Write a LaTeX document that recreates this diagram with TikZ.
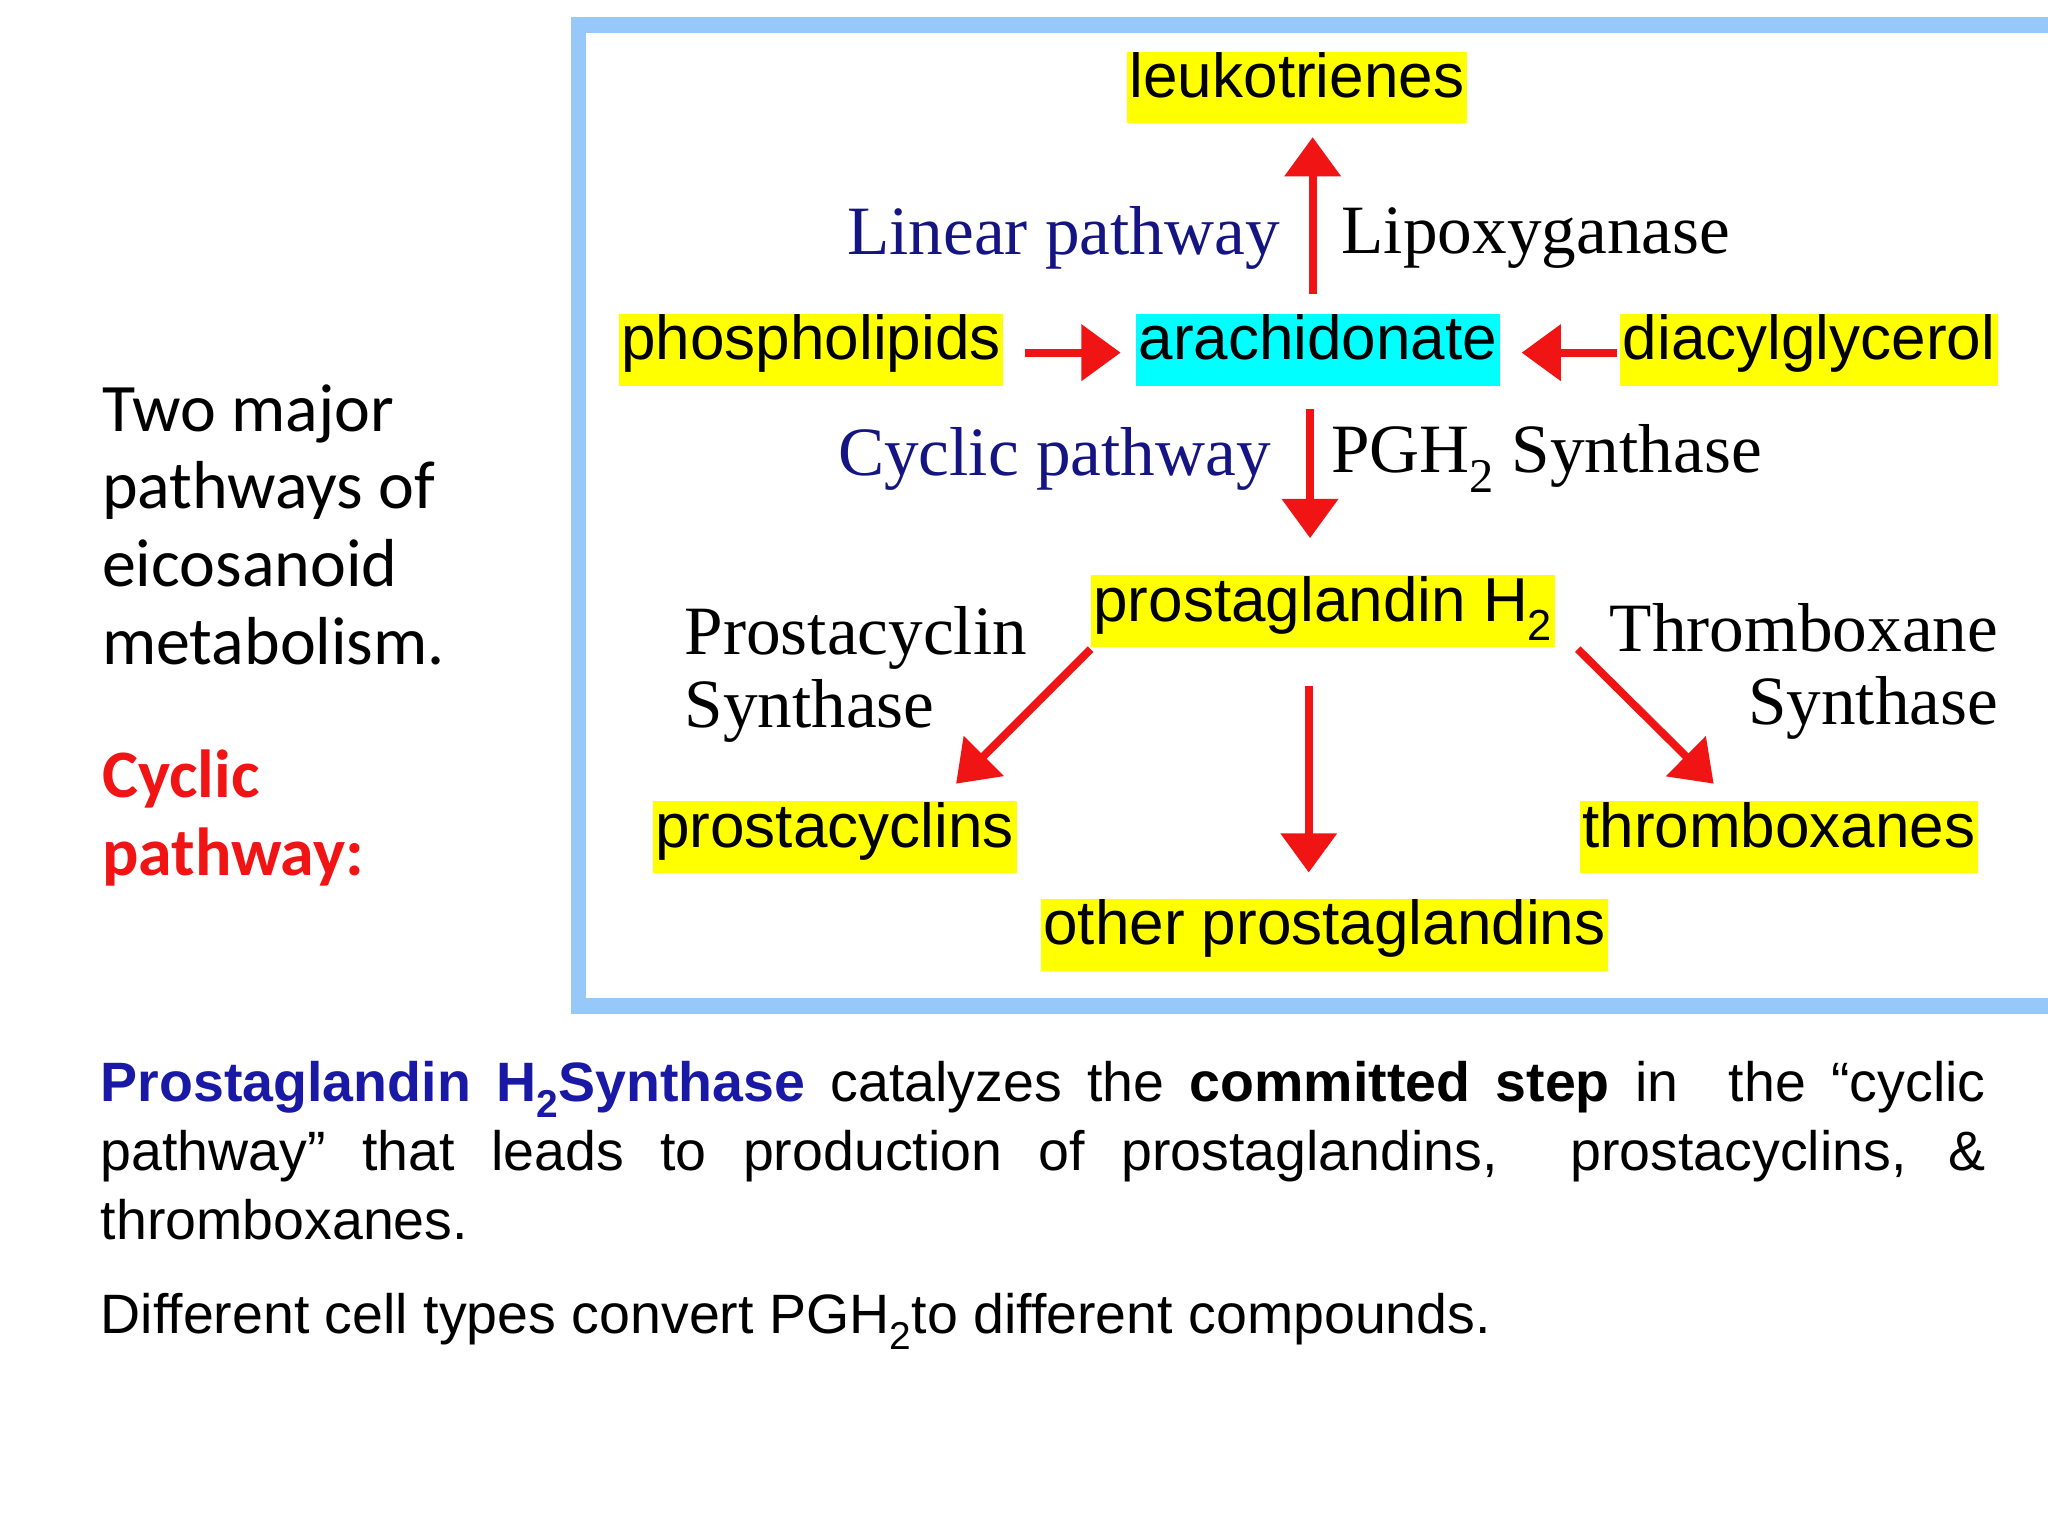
\documentclass[tikz,border=0pt]{standalone}
\usepackage{fontspec}
\setmainfont{Liberation Sans}
\newfontfamily\serifA{Liberation Serif}
\newfontfamily\cali{Carlito}
\usetikzlibrary{arrows.meta}
\definecolor{hl}{RGB}{255,255,0}
\definecolor{cy}{RGB}{0,255,255}
\definecolor{boxb}{RGB}{150,200,250}
\definecolor{navy}{RGB}{20,20,130}
\definecolor{pblue}{RGB}{25,25,165}
\definecolor{rd}{RGB}{240,20,20}
\tikzset{
 lab/.style={inner xsep=2pt,inner ysep=0pt,text height=32pt,text depth=17pt,minimum height=55pt,font=\fontsize{47.5}{50}\selectfont},
 hlab/.style={lab,fill=hl},
 enz/.style={inner sep=0pt,font=\serifA\fontsize{53}{60}\selectfont},
 rarr/.style={draw=rd,line width=6pt,-{Triangle[width=42pt,length=30pt]}},
}
\begin{document}
\begin{tikzpicture}[x=1pt,y=-1pt]
\useasboundingbox[fill=white] (0,0) rectangle (1568,1176);
\draw[boxb,line width=12pt] (443,19) rectangle (1580,770);
\node[hlab] (leu) at (993,67) {leukotrienes};
\node[hlab] (pho) at (621,268) {phospholipids};
\node[lab,fill=cy] (ara) at (1009,268) {arachidonate};
\node[hlab] (dia) at (1385,268) {diacylglycerol};
\node[hlab] (pgh) at (1013,468) {prostaglandin H\textsubscript{2}};
\node[hlab] (pcy) at (639,641) {prostacyclins};
\node[hlab] (thr) at (1362,641) {thromboxanes};
\node[hlab] (oth) at (1014,716) {other prostaglandins};
\node[enz,anchor=east,text=navy] (lin) at (980,182) {Linear pathway};
\node[enz,anchor=west] (lip) at (1027,182) {Lipoxyganase};
\node[enz,anchor=east,text=navy] (cyc) at (973,351) {Cyclic pathway};
\node[enz,anchor=west] (pgs) at (1019,351) {PGH\textsubscript{2} Synthase};
\node[enz,anchor=north west,align=left,font=\serifA\fontsize{53}{56}\selectfont] (pcs) at (524,464) {Prostacyclin\\Synthase};
\node[enz,anchor=north east,align=right,font=\serifA\fontsize{53}{56}\selectfont] (tbs) at (1530,462) {Thromboxane\\Synthase};
\coordinate (a1) at (1005,225); \coordinate (a1e) at (1005,105);
\coordinate (a2) at (785,270); \coordinate (a2e) at (858,270);
\coordinate (a3) at (1238,270); \coordinate (a3e) at (1165,270);
\coordinate (a4) at (1003,313); \coordinate (a4e) at (1003,412);
\coordinate (a5) at (835,497); \coordinate (a5e) at (732,600);
\coordinate (a6) at (1208,497); \coordinate (a6e) at (1312,600);
\coordinate (a7) at (1002,525); \coordinate (a7e) at (1002,668);
\foreach \i in {1,...,7} \draw[rarr] (a\i) -- (a\i e);
\node[anchor=north west,align=left,inner sep=0pt,font=\cali\fontsize{52}{59.5}\selectfont] (two) at (78,294) {Two major\\pathways of\\eicosanoid\\metabolism.};
\node[anchor=north west,align=left,inner sep=0pt,text=rd,font=\cali\bfseries\fontsize{52}{59.5}\selectfont] (cp) at (78,574) {Cyclic\\pathway:};
\node[anchor=north west,inner sep=0pt,text width=1443pt,align=justify,font=\fontsize{42.5}{53}\selectfont] (par) at (77,812) {{\color{pblue}\bfseries Prostaglandin H\textsubscript{2}Synthase} catalyzes the \textbf{committed step} in\ \ the “cyclic\linebreak pathway” that leads to production of prostaglandins,\ \ prostacyclins, \&\linebreak thromboxanes.};
\node[anchor=north west,inner sep=0pt,font=\fontsize{42.5}{53}\selectfont] (dif) at (77,990) {Different cell types convert PGH\textsubscript{2}to different compounds.};
\end{tikzpicture}
\end{document}
